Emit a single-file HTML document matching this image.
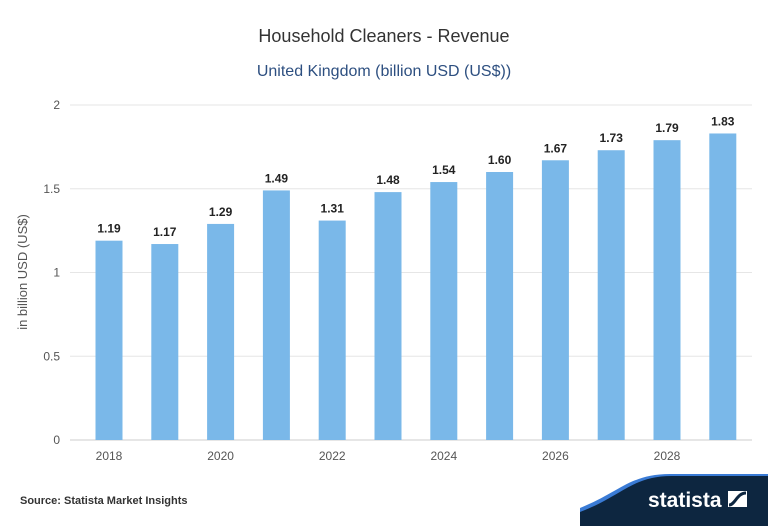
<!DOCTYPE html>
<html><head><meta charset="utf-8"><style>
body{margin:0;background:#fff;font-family:"Liberation Sans",sans-serif;}
svg{display:block}
</style></head><body>
<svg width="768" height="526" viewBox="0 0 768 526">
<rect width="768" height="526" fill="#fff"/>
<text x="384" y="42" text-anchor="middle" font-size="18" fill="#333">Household Cleaners - Revenue</text>
<text x="384" y="76" text-anchor="middle" font-size="16" fill="#2d4f80">United Kingdom (billion USD (US$))</text>
<g id="grid"></g>
<g id="bars"></g>
<text transform="translate(27,272) rotate(-90)" text-anchor="middle" font-size="13" fill="#555">in billion USD (US$)</text>
<text x="20" y="504" font-size="11" font-weight="bold" fill="#333">Source: Statista Market Insights</text>
<path d="M580,508 C620,492 630,474 670,474 L768,474 L768,526 L580,526 Z" fill="#3a7bd5"/>
<path d="M580,512 C622,496 632,476 672,476 L768,476 L768,526 L580,526 Z" fill="#0d2640"/>
<text x="648" y="507" font-size="21" font-weight="bold" fill="#fff">statista</text>
<rect x="728" y="491" width="19" height="16" fill="#fff"/>
<path d="M729,505 C735,505 737,493 746,493" stroke="#0d2640" stroke-width="3" fill="none"/>
</svg>
<script>
const categories=[2018,2019,2020,2021,2022,2023,2024,2025,2026,2027,2028,2029];
const values=[1.19,1.17,1.29,1.49,1.31,1.48,1.54,1.60,1.67,1.73,1.79,1.83];
const labels=["1.19","1.17","1.29","1.49","1.31","1.48","1.54","1.60","1.67","1.73","1.79","1.83"];
const yTicks=[0,0.5,1,1.5,2];
const yTickLabels=["0","0.5","1","1.5","2"];
const xTickLabels=["2018","2020","2022","2024","2026","2028"];
const NS="http://www.w3.org/2000/svg";
const y=v=>440-v*167.5;
const x=i=>109+i*55.8;
const g=document.getElementById('grid'),b=document.getElementById('bars');
function mk(t,a,p){const e=document.createElementNS(NS,t);for(const k in a)e.setAttribute(k,a[k]);p.appendChild(e);return e;}
yTicks.forEach((v,i)=>{
  const l=mk('line',{x1:70,x2:752,y1:y(v),y2:y(v),stroke:v===0?'#ccc':'#e6e6e6','stroke-width':1},g);
  
  
  const t=mk('text',{x:60,y:y(v)+4,'text-anchor':'end','font-size':12,fill:'#555'},g);
  t.textContent=yTickLabels[i];
  
  
});
categories.forEach((c,i)=>{
  const r=mk('rect',{x:x(i)-13.5,y:y(values[i]),width:27,height:440-y(values[i]),fill:'#7ab8e9'},b);
  
  
  const t=mk('text',{x:x(i),y:y(values[i])-8,'text-anchor':'middle','font-size':12,'font-weight':'bold',fill:'#222'},b);
  t.textContent=labels[i];
  
  
  if(i%2===0){
    const xt=mk('text',{x:x(i),y:460,'text-anchor':'middle','font-size':12,fill:'#555'},b);
    xt.textContent=xTickLabels[i/2];
    
    
  }
});
</script>
</body></html>
